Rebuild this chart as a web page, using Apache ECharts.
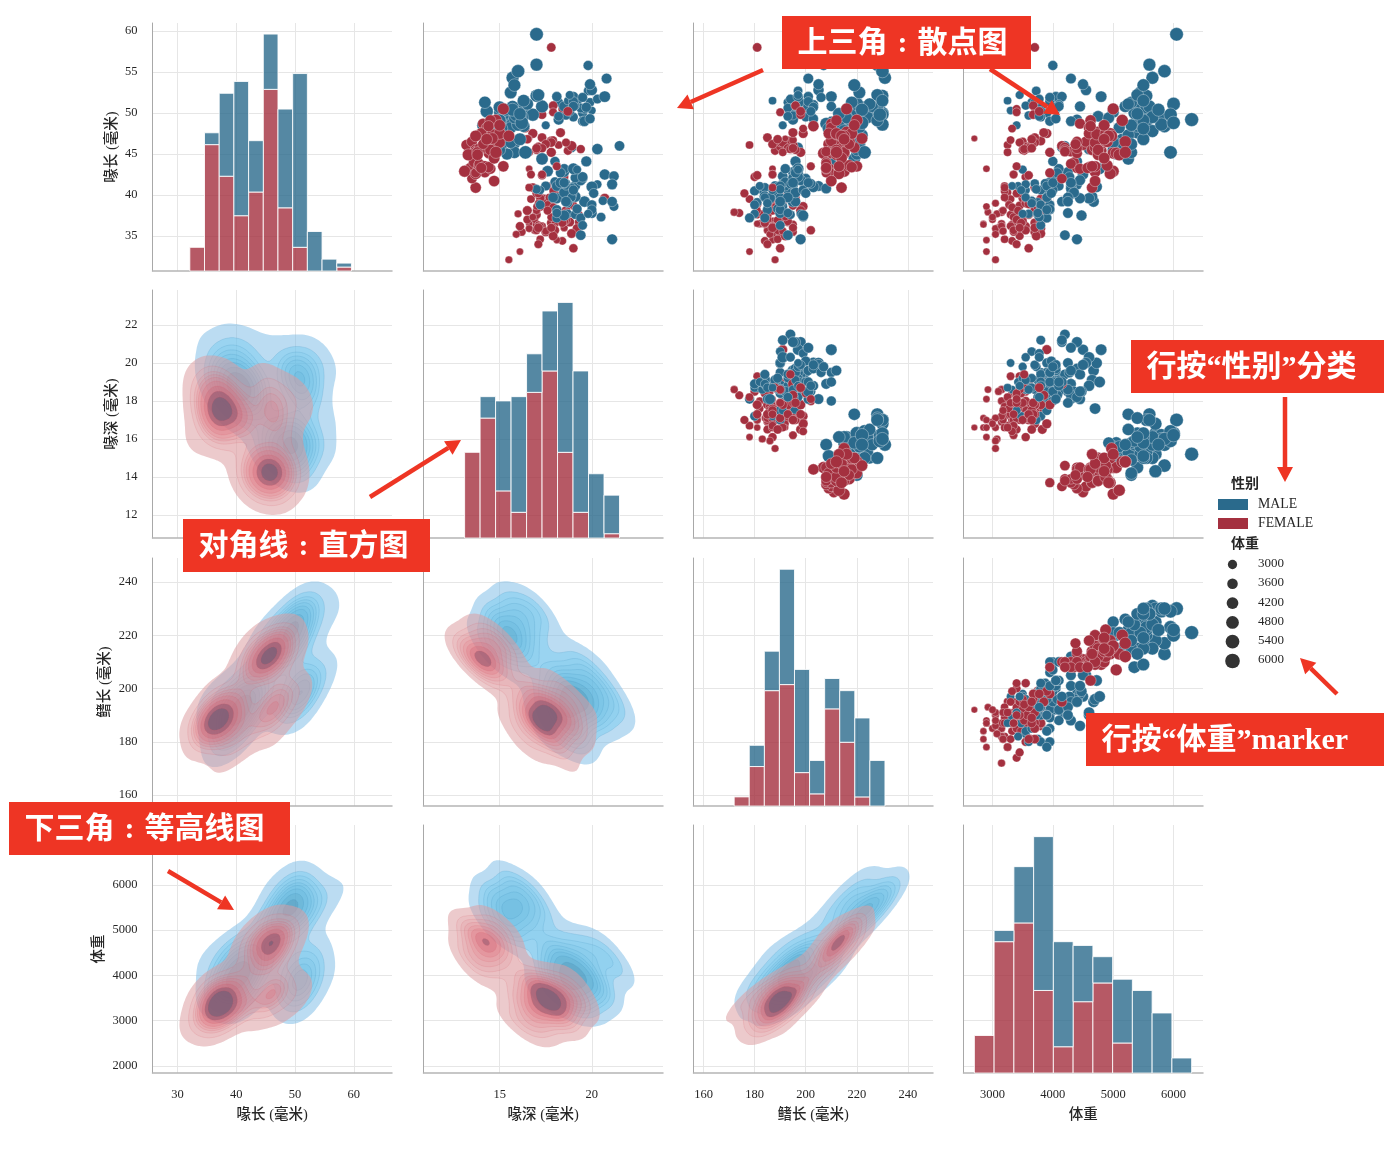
<!DOCTYPE html>
<html>
<head>
<meta charset="utf-8">
<title>企鹅数据散点矩阵</title>
<script src="https://cdn.jsdelivr.net/npm/echarts@6/dist/echarts.min.js"></script>
<style>
html,body{margin:0;padding:0;background:#fff;}
#main{width:1396px;height:1150px;}
</style>
</head>
<body>
<div id="main"></div>
<script>
// 每一行同一只企鹅,四列 + 性别
var billLength = [
39.1,39.5,40.3,36.7,39.3,38.9,39.2,41.1,38.6,34.6,
36.6,38.7,42.5,34.4,46.0,37.8,37.7,35.9,38.2,38.8,
35.3,40.6,40.5,37.9,40.5,39.5,37.2,39.5,40.9,36.4,
39.2,38.8,42.2,37.6,39.8,36.5,40.8,36.0,44.1,37.0,
39.6,41.1,36.0,42.3,39.6,40.1,35.0,42.0,34.5,41.4,
39.0,40.6,36.5,37.6,35.7,41.3,37.6,41.1,36.4,41.6,
35.5,41.1,35.9,41.8,33.5,39.7,39.6,45.8,35.5,42.8,
40.9,37.2,36.2,42.1,34.6,42.9,36.7,35.1,37.3,41.3,
36.3,36.9,38.3,38.9,35.7,41.1,34.0,39.6,36.2,40.8,
38.1,40.3,33.1,43.2,35.0,41.0,37.7,37.8,37.9,39.7,
38.6,38.2,38.1,43.2,38.1,45.6,39.7,42.2,39.6,42.7,
38.6,37.3,35.7,41.1,36.2,37.7,40.2,41.4,35.2,40.6,
38.8,41.5,39.0,44.1,38.5,43.1,36.8,37.5,38.1,41.1,
35.6,40.2,37.0,39.7,40.2,40.6,32.1,40.7,37.3,39.0,
39.2,36.6,36.0,37.8,36.0,41.5,
46.5,50.0,51.3,45.4,52.7,45.2,46.1,51.3,46.0,51.3,
46.6,51.7,47.0,52.0,45.9,50.5,50.3,58.0,46.4,49.2,
42.4,48.5,43.2,50.6,46.7,52.0,50.5,49.5,46.4,52.8,
40.9,54.2,42.5,51.0,49.7,47.5,47.6,52.0,46.9,53.5,
49.0,46.2,50.9,45.5,50.9,50.8,50.1,49.0,51.5,49.8,
48.1,51.4,45.7,50.7,42.5,52.2,45.2,49.3,50.2,45.6,
51.9,46.8,45.7,55.8,43.5,49.6,50.8,50.2,
46.1,50.0,48.7,50.0,47.6,46.5,45.4,46.7,43.3,46.8,
40.9,49.0,45.5,48.4,45.8,49.3,42.0,49.2,46.2,48.7,
50.2,45.1,46.5,46.3,42.9,46.1,47.8,48.2,50.0,47.3,
42.8,45.1,59.6,49.1,48.4,42.6,44.4,44.0,48.7,42.7,
49.6,45.3,49.6,50.5,43.6,45.5,50.5,44.9,45.2,46.6,
48.5,45.1,50.1,46.5,45.0,43.8,45.5,43.2,50.4,45.3,
46.2,45.7,54.3,45.8,49.8,49.5,43.5,50.7,47.7,46.4,
48.2,46.5,46.4,48.6,47.5,51.1,45.2,45.2,49.1,52.5,
47.4,50.0,44.9,50.8,43.4,51.3,47.5,52.1,47.5,52.2,
45.5,49.5,44.5,50.8,49.4,46.9,48.4,51.1,48.5,55.9,
47.2,49.1,46.8,41.7,53.4,43.3,48.1,50.5,49.8,43.5,
51.5,46.2,55.1,48.8,47.2,46.8,50.4,45.2,49.9
];
var billDepth = [
18.7,17.4,18.0,19.3,20.6,17.8,19.6,17.6,21.2,21.1,
17.8,19.0,20.7,18.4,21.5,18.3,18.7,19.2,18.1,17.2,
18.9,18.6,17.9,18.6,18.9,16.7,18.1,17.8,18.9,17.0,
21.1,20.0,18.5,19.3,19.1,18.0,18.4,18.5,19.7,16.9,
18.8,19.0,17.9,21.2,17.7,18.9,17.9,19.5,18.1,18.6,
17.5,18.8,16.6,19.1,16.9,21.1,17.0,18.2,17.1,18.0,
16.2,19.1,16.6,19.4,19.0,18.4,17.2,18.9,17.5,18.5,
16.8,19.4,16.1,19.1,17.2,17.6,18.8,19.4,17.8,20.3,
19.5,18.6,19.2,18.8,18.0,18.1,17.1,18.1,17.3,18.9,
18.6,18.5,16.1,18.5,17.9,20.0,16.0,20.0,18.6,18.9,
17.2,20.0,17.0,19.0,16.5,20.3,17.7,19.5,20.7,18.3,
17.0,20.5,17.0,18.6,17.2,19.8,17.0,18.5,15.9,19.0,
17.6,18.3,17.1,18.0,17.9,19.2,18.5,18.5,17.6,17.5,
17.5,20.1,16.5,17.9,17.1,17.2,15.5,17.0,16.8,18.7,
18.6,18.4,17.8,18.1,17.1,18.5,
17.9,19.5,19.2,18.7,19.8,17.8,18.2,18.2,18.9,19.9,
17.8,20.3,17.3,18.1,17.1,19.6,20.0,17.8,18.6,18.2,
17.3,17.5,16.6,19.4,17.9,19.0,18.4,19.0,17.8,20.0,
16.6,20.8,16.7,18.8,18.6,16.8,18.3,20.7,16.6,19.9,
19.5,17.5,19.1,17.0,17.9,18.5,17.9,19.6,18.7,17.3,
16.4,19.0,17.3,19.7,17.3,18.8,16.6,19.9,18.8,19.4,
19.5,16.5,17.0,19.8,18.1,18.2,19.0,18.7,
13.2,16.3,14.1,15.2,14.5,13.5,14.6,15.3,13.4,15.4,
13.7,16.1,13.7,14.6,14.6,15.7,13.5,15.2,14.5,15.1,
14.3,14.5,14.5,15.8,13.1,15.1,15.0,14.3,15.3,15.3,
14.2,14.5,17.0,14.8,16.3,13.7,17.3,13.6,15.7,13.7,
16.0,13.7,15.0,15.9,13.9,13.9,15.9,13.3,15.8,14.2,
14.1,14.4,15.0,14.4,15.4,13.9,15.0,14.5,15.3,13.8,
14.9,13.9,15.7,14.2,16.8,16.2,14.2,15.0,15.0,15.6,
15.6,14.8,15.0,16.0,14.2,16.3,13.8,16.4,14.5,15.6,
14.6,15.9,13.8,17.3,14.4,14.2,14.0,17.0,15.0,17.1,
14.5,16.1,14.7,15.7,15.8,14.6,14.4,16.5,15.0,17.0,
15.5,15.0,16.1,14.7,15.8,14.0,15.1,15.2,15.9,15.2,
16.3,14.1,16.0,16.2,13.7,14.3,15.7,14.8,16.1
];
var flipperLength = [
181,186,195,193,190,181,195,182,191,198,
185,195,197,184,194,174,180,189,185,180,
187,183,187,172,180,178,178,188,184,195,
196,190,180,181,184,182,195,186,196,185,
190,182,190,191,186,188,190,200,187,191,
186,193,181,194,185,195,185,192,184,192,
195,188,190,198,190,190,196,197,190,195,
191,184,187,195,189,196,187,193,191,194,
190,189,189,190,202,205,185,186,187,208,
190,196,178,192,192,203,183,190,193,184,
199,190,181,197,198,191,193,197,191,196,
188,199,189,189,187,198,176,202,186,199,
191,195,191,210,190,197,193,199,187,190,
191,200,185,193,193,187,188,190,192,185,
190,184,195,193,187,201,
192,196,193,188,197,198,178,197,195,198,
193,194,185,201,190,201,197,181,190,195,
181,191,187,193,195,197,200,200,191,205,
187,201,187,203,195,199,195,210,192,205,
210,187,196,196,196,201,190,212,187,198,
199,201,193,203,187,197,191,203,202,194,
206,189,195,207,202,193,210,198,
211,230,210,218,215,210,211,219,209,215,
214,216,214,213,210,217,210,221,209,222,
218,215,213,215,215,215,215,210,220,222,
209,207,230,220,220,213,219,208,208,208,
225,210,216,222,217,210,225,213,215,210,
220,210,225,217,220,208,220,208,224,208,
221,214,231,219,230,229,220,223,216,221,
221,217,216,230,209,220,215,223,212,221,
212,224,212,228,218,218,212,230,218,228,
212,224,214,226,216,222,203,225,219,228,
215,228,215,210,219,208,209,216,229,213,
230,217,230,222,214,215,222,212,213
];
var bodyMass = [
3750,3800,3250,3450,3650,3625,4675,3200,3800,4400,
3700,3450,4500,3325,4200,3400,3600,3800,3950,3800,
3800,3550,3200,3150,3950,3250,3900,3300,3900,3325,
4150,3950,3550,3300,4650,3150,3900,3100,4400,3000,
4600,3425,3450,4150,3500,4300,3450,4050,2900,3700,
3550,3800,2850,3750,3150,4400,3600,4050,2850,3950,
3350,4100,3050,4450,3600,3900,3550,4150,3700,4250,
3700,3900,3550,4000,3200,4700,3800,4200,3350,3550,
3800,3500,3950,3600,3550,4300,3400,4450,3300,4300,
3700,4350,2900,4100,3725,4725,3075,4250,2925,3550,
3750,3900,3175,4775,3825,4600,3200,4275,3900,4075,
2900,3775,3350,3325,3150,3500,3450,3875,3050,4000,
3275,4300,3050,4000,3325,3500,3500,4475,3425,3900,
3175,3975,3400,4250,3400,3475,3050,3725,3000,3650,
4250,3475,3450,3750,3700,4000,
3500,3900,3650,3525,3725,3950,3250,3750,4150,3700,
3800,3775,3700,4050,3575,4050,3300,3700,3450,4400,
3600,3400,2900,3800,3300,4150,3400,3800,3700,4550,
3200,4300,3350,4100,3600,3900,3850,4800,2700,4500,
3950,3650,3550,3500,3675,4450,3400,4300,3250,3675,
3325,3950,3600,4050,3350,3450,3250,4050,3800,3525,
3950,3650,3650,4000,3400,3775,4100,3775,
4500,5700,4450,5700,5400,4550,4800,5200,4400,5150,
4650,5550,4650,5850,4200,5850,4150,6300,4800,5350,
5700,5000,4400,5050,5000,5100,5650,4600,5550,5250,
4700,5050,6050,5150,5400,4950,5250,4350,5350,3950,
5700,4300,4750,5550,4900,4200,5400,5100,5300,4850,
5300,4400,5000,4900,5050,4300,5000,4450,5550,4200,
5300,4400,5650,4700,5700,5800,4700,5550,4750,5000,
5100,5200,4700,5800,4600,6000,4750,5950,4625,5450,
4725,5350,4750,5600,4600,5300,4875,5550,4950,5400,
4750,5650,4850,5200,4925,4875,4625,5250,4850,5600,
4975,5500,5500,4700,5500,4575,5500,5000,5950,4650,
5500,4375,5850,6000,4925,4850,5750,5200,5400
];
var sexCodes = (
'MFFFMFMFMM'+'FFMFMFMFMM'+'FMFFMFMFMF'+'MMFFMFMFMF'+'MMFMFMFMFM'+
'FMFMFMFMFM'+'FMFMFMFMFM'+'FMFMFMFMFM'+'MFMFFMFMFM'+'FMFMFMFMFM'+
'FMFMFMFMFM'+'FMFMFMFMFM'+'FMFMFMFMFM'+'FMFMFMFMFM'+'MFFMFM'+
'FMMFMFFMFM'+'FMFMFMMFFM'+'FMFMFMFMFM'+'FMFMMFFMFM'+'MFMFFMFMMF'+'FMFMFMFMMF'+'MFFMFMMF'+
'FMFMMFFMFM'+'FMFMFMFMFM'+'MFFMFMMFMM'+'FFMFMFMFMF'+'MFMMFFMFMF'+'MFMFMFMFMF'+
'MFMFMMFMFM'+'MFFMFMFMFM'+'FMFMFMFMFM'+'FMFMMFFMFM'+'FMMFMFMFMF'+'MFMMFFMFM'
).split('');

var axisNames = ['喙长 (毫米)','喙深 (毫米)','鳍长 (毫米)','体重'];
var xTicks = [[30,40,50,60],[15,20],[160,180,200,220,240],[3000,4000,5000,6000]];
var yTicks = [[35,40,45,50,55,60],[12,14,16,18,20,22],[160,180,200,220,240],[2000,3000,4000,5000,6000]];

// 直方图:分箱边界与每箱计数
var lengthBins = [32.1,34.6,37.1,39.6,42.1,44.6,47.1,49.6,52.1,54.6,57.1,59.6];
var lengthFemale = [6,32,24,14,20,46,16,6,0,0,1];
var lengthMale = [0,3,21,34,13,14,25,44,10,3,1];
var depthBins = [13.1,13.94,14.78,15.62,16.46,17.3,18.14,18.98,19.82,20.66,21.5];
var depthFemale = [20,28,11,6,34,39,20,6,0,1];
var depthMale = [0,5,21,27,9,14,35,33,15,9];
var flipperBins = [172,177.9,183.8,189.7,195.6,201.5,207.4,213.3,219.2,225.1,231];
var flipperFemale = [3,13,38,40,11,4,32,21,3,0];
var flipperMale = [0,7,13,38,34,11,10,17,26,15];
var massBins = [2700,3027,3355,3682,4009,4336,4664,4991,5318,5645,5973,6300];
var massFemale = [10,35,40,22,7,19,24,8,0,0,0];
var massMale = [0,3,15,41,28,15,7,17,22,16,4];

var legendMass = [3000,3600,4200,4800,5400,6000];
var isoProps = [0.05,0.1556,0.2611,0.3667,0.4722,0.5778,0.6833,0.7889,0.8944];

var columns = [billLength,billDepth,flipperLength,bodyMass];
var histBins = [lengthBins,depthBins,flipperBins,massBins];
var histFemale = [lengthFemale,depthFemale,flipperFemale,massFemale];
var histMale = [lengthMale,depthMale,flipperMale,massMale];
var histMax = [62.8,57.9,81.7,66.1];

var xRange = [[25.75,66.5],[10.87,23.86],[156.08,249.8],[2520,6488]];
var yRange = [[30.73,60.98],[10.79,23.84],[155.9,249],[1846,7319]];
var colLeft = [152.5,423.5,693.5,963.5];
var rowTop = [23,290,558,825];
var cellW = 239.5, cellH = 248;
var yNameGap = [33,33,40,46];

var MALE = '#2a6a8c', FEMALE = '#a4303f';
var LABEL_FONT = '"Liberation Serif","Noto Sans CJK SC",serif';

var maleFills = ['rgba(120,185,230,.5)','rgba(105,200,240,.4)','rgba(80,185,225,.1)','rgba(80,180,220,.1)','rgba(75,175,215,.1)',
    'rgba(70,165,205,.1)','rgba(70,155,195,.12)','rgba(70,140,175,.16)','rgba(70,125,155,.22)'];
var femaleFills = ['rgba(220,157,161,.54)','rgba(225,150,155,.18)','rgba(225,125,135,.12)','rgba(225,115,128,.13)','rgba(225,105,120,.15)',
    'rgba(222,95,110,.18)','rgba(200,80,100,.22)','rgba(125,75,100,.42)','rgba(100,92,118,.5)'];

function gaussianKde(xs, ys) {
    var n = xs.length, mx = 0, my = 0;
    for (var i = 0; i < n; i++) { mx += xs[i]; my += ys[i]; }
    mx /= n; my /= n;
    var sxx = 0, syy = 0, sxy = 0;
    for (i = 0; i < n; i++) {
        sxx += (xs[i]-mx)*(xs[i]-mx);
        syy += (ys[i]-my)*(ys[i]-my);
        sxy += (xs[i]-mx)*(ys[i]-my);
    }
    sxx /= n-1; syy /= n-1; sxy /= n-1;
    var f2 = Math.pow(n, -1/3); // scott
    var a = sxx*f2, b = sxy*f2, d = syy*f2;
    var det = a*d - b*b;
    var ia = d/det, ib = -b/det, id = a/det;

    var size = 100, gx = [], gy = [], z = [];
    var cutX = 3*Math.sqrt(a), cutY = 3*Math.sqrt(d);
    var x0 = Math.min.apply(null, xs)-cutX, x1 = Math.max.apply(null, xs)+cutX;
    var y0 = Math.min.apply(null, ys)-cutY, y1 = Math.max.apply(null, ys)+cutY;
    for (i = 0; i < size; i++) {
        gx.push(x0+(x1-x0)*i/(size-1));
        gy.push(y0+(y1-y0)*i/(size-1));
    }
    for (var j = 0; j < size; j++) {
        for (i = 0; i < size; i++) {
            var s = 0;
            for (var k = 0; k < n; k++) {
                var dx = gx[i]-xs[k], dy = gy[j]-ys[k];
                s += Math.exp(-0.5*(ia*dx*dx+2*ib*dx*dy+id*dy*dy));
            }
            z.push(s);
        }
    }
    return {gx:gx, gy:gy, z:z, size:size};
}

function isoLevels(z) {
    var sorted = z.slice().sort(function(p,q){return p-q;});
    var total = 0, acc = 0, out = [], at = 0;
    sorted.forEach(function(v){ total += v; });
    for (var i = 0; i < sorted.length && at < isoProps.length; i++) {
        acc += sorted[i];
        while (at < isoProps.length && acc/total >= isoProps[at]) {
            out.push(sorted[i]);
            at++;
        }
    }
    return out;
}

// marching squares: 线段方向保持高值在左侧,再首尾相接成闭合环
var CASES = {1:[[0,3]],2:[[1,0]],3:[[1,3]],4:[[2,1]],5:[[0,3],[2,1]],6:[[2,0]],7:[[2,3]],
    8:[[3,2]],9:[[0,2]],10:[[1,0],[3,2]],11:[[1,2]],12:[[3,1]],13:[[0,1]],14:[[3,0]]};

function contourRings(kde, level) {
    var size = kde.size, z = kde.z, gx = kde.gx, gy = kde.gy;
    var next = {}, points = {};
    function edgePoint(i, j, e) {
        var ii = e === 1 ? i+1 : i, jj = e === 2 ? j+1 : j;
        var horizontal = e === 0 || e === 2;
        var id = 2*(jj*size+ii)+(horizontal ? 0 : 1);
        if (!points[id]) {
            var v0 = z[jj*size+ii];
            if (horizontal) {
                var t = (level-v0)/(z[jj*size+ii+1]-v0);
                points[id] = [gx[ii]+t*(gx[ii+1]-gx[ii]), gy[jj]];
            } else {
                var u = (level-v0)/(z[(jj+1)*size+ii]-v0);
                points[id] = [gx[ii], gy[jj]+u*(gy[jj+1]-gy[jj])];
            }
        }
        return id;
    }
    for (var j = 0; j < size-1; j++) {
        for (var i = 0; i < size-1; i++) {
            var code = (z[j*size+i] >= level ? 1 : 0) | (z[j*size+i+1] >= level ? 2 : 0) |
                (z[(j+1)*size+i+1] >= level ? 4 : 0) | (z[(j+1)*size+i] >= level ? 8 : 0);
            var segs = CASES[code];
            if (!segs) continue;
            for (var s = 0; s < segs.length; s++) {
                next[edgePoint(i,j,segs[s][0])] = edgePoint(i,j,segs[s][1]);
            }
        }
    }
    var rings = [];
    Object.keys(next).forEach(function(start){
        if (next[start] == null) return;
        var ring = [], cur = +start;
        while (next[cur] != null) {
            ring.push(points[cur]);
            var nx = next[cur];
            next[cur] = null;
            cur = nx;
        }
        rings.push(ring);
    });
    return rings;
}

function kdeSeries(gridIndex, xCol, yCol, sex, fills, stroke) {
    var xs = [], ys = [];
    sexCodes.forEach(function(c,i){
        if (c === sex) { xs.push(columns[xCol][i]); ys.push(columns[yCol][i]); }
    });
    var kde = gaussianKde(xs, ys);
    var levelRings = isoLevels(kde.z).map(function(l){ return contourRings(kde, l); });
    return {
        type:'custom',
        xAxisIndex:gridIndex,
        yAxisIndex:gridIndex,
        silent:true,
        clip:true,
        data:levelRings.map(function(r,i){ return [i]; }),
        renderItem:function(params, api){
            var rings = levelRings[params.dataIndex];
            var path = rings.map(function(ring){
                return ring.map(function(p,i){
                    var c = api.coord(p);
                    return (i ? 'L' : 'M')+c[0].toFixed(1)+' '+c[1].toFixed(1);
                }).join('')+'Z';
            }).join('');
            return {
                type:'path',
                shape:{pathData:path},
                style:{fill:fills[params.dataIndex], stroke:stroke, lineWidth:params.dataIndex ? 0.5 : 0}
            };
        }
    };
}

function histSeries(gridIndex, yAxisIndex, col, sex) {
    var bins = histBins[col], rects = [];
    for (var i = 0; i < bins.length-1; i++) {
        var bottom = sex === 'F' ? 0 : histFemale[col][i];
        var count = sex === 'F' ? histFemale[col][i] : histMale[col][i];
        if (count > 0) rects.push([bins[i], bins[i+1], bottom, bottom+count]);
    }
    return {
        type:'custom',
        xAxisIndex:gridIndex,
        yAxisIndex:yAxisIndex,
        silent:true,
        data:rects,
        encode:{x:[0,1], y:[2,3]},
        renderItem:function(params, api){
            var p0 = api.coord([api.value(0), api.value(2)]);
            var p1 = api.coord([api.value(1), api.value(3)]);
            return {
                type:'rect',
                shape:{x:p0[0], y:p1[1], width:p1[0]-p0[0], height:p0[1]-p1[1]},
                style:{fill:sex === 'F' ? 'rgba(164,48,63,.8)' : 'rgba(42,106,140,.8)', stroke:'rgba(255,255,255,.85)', lineWidth:1}
            };
        }
    };
}

// 叠放顺序:Adelie 先画雌性,Gentoo 后画雌性,与原图遮挡一致
var ADELIE_END = 146, GENTOO_START = 214;
var drawOrder = [];
function pushRange(from, to, first) {
    for (var i = from; i < to; i++) if (!first || sexCodes[i] === first) drawOrder.push(i);
}
pushRange(0, ADELIE_END, 'F');
pushRange(0, ADELIE_END, 'M');
pushRange(ADELIE_END, GENTOO_START);
pushRange(GENTOO_START, sexCodes.length, 'M');
pushRange(GENTOO_START, sexCodes.length, 'F');

function scatterSeries(gridIndex, xCol, yCol) {
    return {
        type:'scatter',
        xAxisIndex:gridIndex,
        yAxisIndex:gridIndex,
        silent:true,
        data:drawOrder.map(function(i){
            return {
                value:[columns[xCol][i], columns[yCol][i], bodyMass[i]],
                itemStyle:{color:sexCodes[i] === 'M' ? MALE : FEMALE}
            };
        }),
        symbolSize:function(v){ return Math.sqrt(36+(v[2]-2900)*0.0365)+1.2; },
        itemStyle:{borderColor:'rgba(255,255,255,.75)', borderWidth:0.45, opacity:1}
    };
}

function plainNumber(v) { return String(v); }

var grids = [], xAxes = [], yAxes = [], series = [];
rowTop.forEach(function(top, r){
    colLeft.forEach(function(left, c){
        var g = grids.length;
        grids.push({left:left, top:top, width:cellW, height:cellH, containLabel:false});
        xAxes.push({
            type:'value', gridIndex:g, min:xRange[c][0], max:xRange[c][1],
            name:r === 3 ? axisNames[c] : '',
            nameLocation:'middle', nameGap:35,
            nameTextStyle:{fontFamily:LABEL_FONT, fontSize:14.5, color:'#262626', fontWeight:500},
            axisLine:{show:true, onZero:false, lineStyle:{color:'#b5b5b5', width:1.5}},
            axisTick:{show:false, customValues:xTicks[c]},
            axisLabel:{show:r === 3, customValues:xTicks[c], formatter:plainNumber, margin:15, fontFamily:LABEL_FONT, fontSize:12.5, color:'#262626'},
            splitLine:{show:true, lineStyle:{color:'#e6e6e6', width:1}}
        });
        yAxes.push({
            type:'value', gridIndex:g, min:yRange[r][0], max:yRange[r][1],
            name:c === 0 ? axisNames[r] : '',
            nameLocation:'middle', nameGap:yNameGap[r],
            nameTextStyle:{fontFamily:LABEL_FONT, fontSize:14.5, color:'#262626', fontWeight:500},
            axisLine:{show:true, onZero:false, lineStyle:{color:'#a8a8a8', width:1}},
            axisTick:{show:false, customValues:yTicks[r]},
            axisLabel:{show:c === 0, customValues:yTicks[r], formatter:plainNumber, margin:15, padding:[2,0,0,0], fontFamily:LABEL_FONT, fontSize:12.5, color:'#262626'},
            splitLine:{show:true, lineStyle:{color:'#e6e6e6', width:1}}
        });
    });
});

// 对角线的计数轴不显示,放在主轴之后
colLeft.forEach(function(left, c){
    var g = c*4+c;
    var yIndex = yAxes.length;
    yAxes.push({type:'value', gridIndex:g, min:0, max:histMax[c], show:false, position:'right', splitLine:{show:false}});
    series.push(histSeries(g, yIndex, c, 'F'));
    series.push(histSeries(g, yIndex, c, 'M'));
});

for (var r = 0; r < 4; r++) {
    for (var c = 0; c < 4; c++) {
        var g = r*4+c;
        if (c > r) {
            series.push(scatterSeries(g, c, r));
        } else if (c < r) {
            series.push(kdeSeries(g, c, r, 'M', maleFills, 'rgba(60,140,185,.35)'));
            series.push(kdeSeries(g, c, r, 'F', femaleFills, 'rgba(215,85,100,.3)'));
        }
    }
}

// 红色标注
var NOTE_RED = '#ee3524';
var notes = [
    {text:'上三角\u2004:\u2004散点图', x:782, y:16, w:249},
    {text:'行按“性别”分类', x:1131, y:340, w:253},
    {text:'对角线\u2004:\u2004直方图', x:183, y:519, w:247},
    {text:'行按“体重”marker', x:1086, y:713, w:298},
    {text:'下三角\u2004:\u2004等高线图', x:9, y:802, w:281}
];
var arrows = [[763,70,677,108],[990,69,1060,115],[370,497,461,440],[168,871,234,910],[1285,397,1285,482],[1337,694,1300,658]];

var graphics = [];
notes.forEach(function(n){
    graphics.push({type:'rect', z:100, silent:true, shape:{x:n.x, y:n.y, width:n.w, height:53}, style:{fill:NOTE_RED}});
    graphics.push({type:'text', z:101, silent:true, x:n.x+15.5, y:n.y+28, style:{
        text:n.text, fill:'#fff', font:'bold 30px '+LABEL_FONT, textAlign:'left', textVerticalAlign:'middle'}});
});
arrows.forEach(function(a){
    var dx = a[2]-a[0], dy = a[3]-a[1], len = Math.sqrt(dx*dx+dy*dy);
    var ux = dx/len, uy = dy/len, hl = 15, hw = 8;
    var bx = a[2]-ux*hl, by = a[3]-uy*hl;
    graphics.push({type:'line', z:100, silent:true, shape:{x1:a[0], y1:a[1], x2:bx, y2:by}, style:{stroke:NOTE_RED, lineWidth:4.5}});
    graphics.push({type:'polygon', z:100, silent:true, shape:{points:[[a[2],a[3]],[bx-uy*hw,by+ux*hw],[bx+uy*hw,by-ux*hw]]}, style:{fill:NOTE_RED}});
});

// 图例
function legendText(text, x, y, bold, size) {
    graphics.push({type:'text', silent:true, x:x, y:y, style:{
        text:text, fill:'#262626', font:(bold ? 'bold ' : '')+(size || 13)+'px '+LABEL_FONT, textAlign:'left', textVerticalAlign:'middle'}});
}
legendText('性别', 1231, 484, true, 14);
graphics.push({type:'rect', silent:true, shape:{x:1218, y:499, width:30, height:11}, style:{fill:MALE}});
legendText('MALE', 1258, 504.5, false, 13.8);
graphics.push({type:'rect', silent:true, shape:{x:1218, y:518, width:30, height:11}, style:{fill:FEMALE}});
legendText('FEMALE', 1258, 523.5, false, 13.8);
legendText('体重', 1231, 544, true, 14);
legendMass.forEach(function(m, i){
    var y = 564.5+i*19.3;
    var d = Math.sqrt(86+(m-3000)*0.043);
    graphics.push({type:'circle', silent:true, shape:{cx:1232.5, cy:y, r:d/2}, style:{fill:'#333'}});
    legendText(String(m), 1258, y-1);
});

var chart = echarts.init(document.getElementById('main'), null, {renderer:'canvas'});
chart.setOption({
    animation:false,
    backgroundColor:'#fff',
    grid:grids,
    xAxis:xAxes,
    yAxis:yAxes,
    series:series,
    graphic:graphics
});
</script>
</body>
</html>
